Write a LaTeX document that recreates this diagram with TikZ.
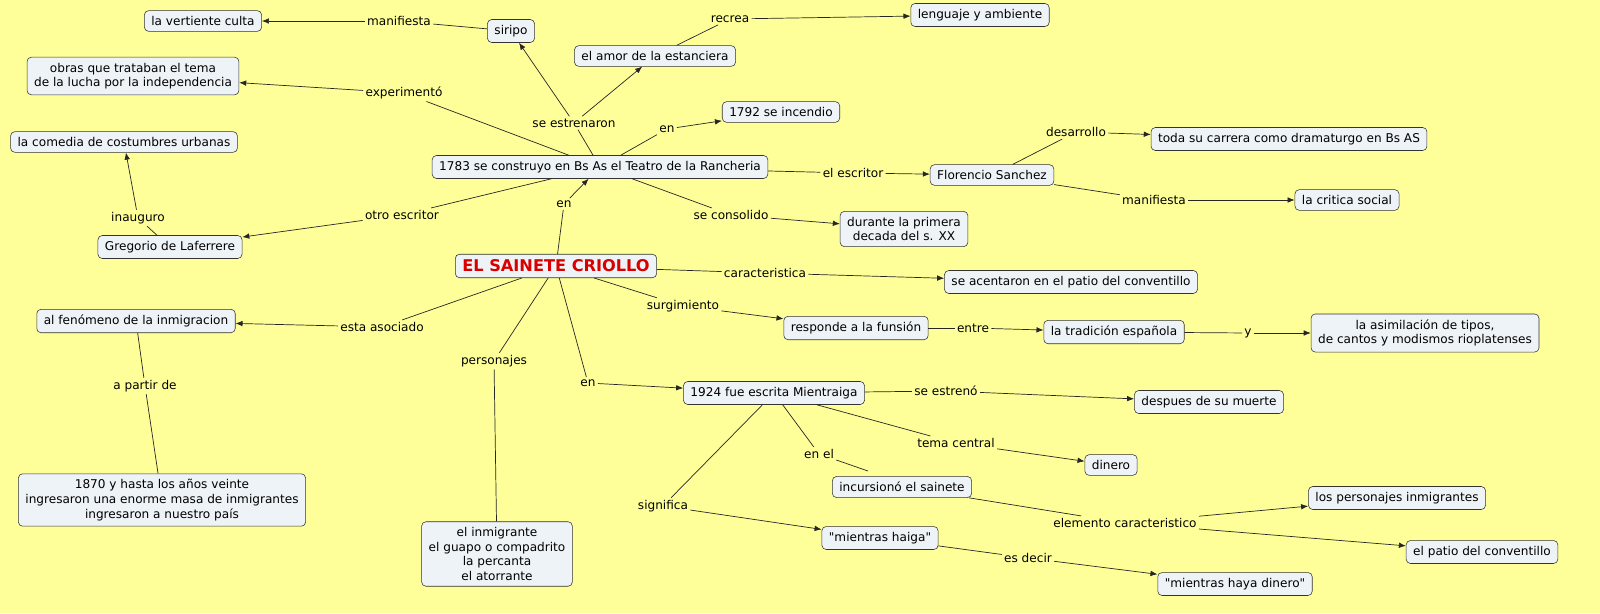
\documentclass[tikz,border=0pt]{standalone}
\usepackage{fontspec}
\setmainfont{DejaVu Sans}
\newfontfamily\plainq{DejaVu Sans}
\usetikzlibrary{arrows.meta}
\definecolor{bgy}{HTML}{FFFF99}
\definecolor{cbox}{HTML}{EEF3F7}
\newcommand{\dq}{{\plainq"}}
\begin{document}
\begin{tikzpicture}[x=0.025cm,y=-0.025cm,
  concept/.style={draw=black!80,fill=cbox,rounded corners=3pt,align=center,font=\fontsize{8.6}{10.4}\selectfont,inner xsep=5pt,inner ysep=4pt},
  lbl/.style={font=\fontsize{8.6}{10.4}\selectfont,inner sep=1.5pt,fill=bgy},
  ln/.style={draw=black!85,line width=0.5pt},
  ar/.style={ln,-{Latex[length=5pt,width=4pt]}}]
\fill[bgy] (0,0) rectangle (1600,613);
\useasboundingbox (0,0) rectangle (1600,613);
% concepts
\node[concept] (siripo) at (511,31) {siripo};
\node[concept] (culta) at (203,21) {la vertiente culta};
\node[concept] (leng) at (980,15) {lenguaje y ambiente};
\node[concept] (amor) at (655,56) {el amor de la estanciera};
\node[concept] (obras) at (133,76) {obras que trataban el tema\\de la lucha por la independencia};
\node[concept] (comedia) at (124,142) {la comedia de costumbres urbanas};
\node[concept] (incendio) at (781,112) {1792 se incendio};
\node[concept] (teatro) at (600,167) {1783 se construyo en Bs As el Teatro de la Rancheria};
\node[concept] (flor) at (992,175) {Florencio Sanchez};
\node[concept] (carrera) at (1289,139) {toda su carrera como dramaturgo en Bs AS};
\node[concept] (critica) at (1347,200) {la critica social};
\node[concept] (greg) at (170,247) {Gregorio de Laferrere};
\node[concept] (durante) at (904,229) {durante la primera\\decada del s. XX};
\node[concept,font=\fontsize{11.5}{13}\selectfont\bfseries,text=red!85!black] (sain) at (556,266) {EL SAINETE CRIOLLO};
\node[concept] (acent) at (1071,282) {se acentaron en el patio del conventillo};
\node[concept] (fenom) at (136,321) {al fenómeno de la inmigracion};
\node[concept] (resp) at (856,328) {responde a la funsión};
\node[concept] (trad) at (1114,332) {la tradición española};
\node[concept] (asim) at (1425,333) {la asimilación de tipos,\\de cantos y modismos rioplatenses};
\node[concept] (mien) at (774,393) {1924 fue escrita Mientraiga};
\node[concept] (muerte) at (1209,402) {despues de su muerte};
\node[concept] (dinero) at (1111,465) {dinero};
\node[concept] (incur) at (902,487) {incursionó el sainete};
\node[concept] (pers) at (1397,498) {los personajes inmigrantes};
\node[concept] (n1870) at (162,500) {1870 y hasta los años veinte\\ingresaron una enorme masa de inmigrantes\\ingresaron a nuestro país};
\node[concept] (inmig) at (497,554) {el inmigrante\\el guapo o compadrito\\la percanta\\el atorrante};
\node[concept] (haiga) at (880,538) {\dq mientras haiga\dq};
\node[concept] (patio) at (1482,552) {el patio del conventillo};
\node[concept] (haya) at (1235,584) {\dq mientras haya dinero\dq};
% labels
\node[lbl] (l1) at (399,21) {manifiesta};
\node[lbl] (l2) at (730,19) {recrea};
\node[lbl] (l3) at (574,123) {se estrenaron};
\node[lbl] (l4) at (404,93) {experimentó};
\node[lbl] (l5) at (667,129) {en};
\node[lbl] (l6) at (853,173) {el escritor};
\node[lbl] (l7) at (1076,132) {desarrollo};
\node[lbl] (l8) at (1154,200) {manifiesta};
\node[lbl] (l9) at (731,215) {se consolido};
\node[lbl] (l10) at (402,215) {otro escritor};
\node[lbl] (l11) at (138,218) {inauguro};
\node[lbl] (l12) at (564,204) {en};
\node[lbl] (l13) at (765,273) {caracteristica};
\node[lbl] (l14) at (683,306) {surgimiento};
\node[lbl] (l15) at (973,328) {entre};
\node[lbl] (l16) at (1248,333) {y};
\node[lbl] (l17) at (382,327) {esta asociado};
\node[lbl] (l18) at (145,386) {a partir de};
\node[lbl] (l19) at (494,361) {personajes};
\node[lbl] (l20) at (588,383) {en};
\node[lbl] (l21) at (946,391) {se estrenó};
\node[lbl] (l22) at (956,443) {tema central};
\node[lbl] (l23) at (819,454) {en el};
\node[lbl] (l24) at (663,506) {significa};
\node[lbl] (l25) at (1125,523) {elemento caracteristico};
\node[lbl] (l26) at (1028,558) {es decir};
\coordinate (c23) at (868,471);
% connectors
\draw[ln] (siripo) -- (l1); \draw[ar] (l1) -- (culta);
\draw[ln] (amor) -- (l2); \draw[ar] (l2) -- (leng);
\draw[ln] (teatro) -- (l3); \draw[ar] (l3) -- (siripo); \draw[ar] (l3) -- (amor);
\draw[ln] (teatro) -- (l4); \draw[ar] (l4) -- (obras);
\draw[ln] (teatro) -- (l5); \draw[ar] (l5) -- (incendio);
\draw[ln] (teatro) -- (l6); \draw[ar] (l6) -- (flor);
\draw[ln] (flor) -- (l7); \draw[ar] (l7) -- (carrera);
\draw[ln] (flor) -- (l8); \draw[ar] (l8) -- (critica);
\draw[ln] (teatro) -- (l9); \draw[ar] (l9) -- (durante);
\draw[ln] (teatro) -- (l10); \draw[ar] (l10) -- (greg);
\draw[ln] (greg) -- (l11); \draw[ar] (l11) -- (comedia);
\draw[ln] (sain) -- (l12); \draw[ar] (l12) -- (teatro);
\draw[ln] (sain) -- (l13); \draw[ar] (l13) -- (acent);
\draw[ln] (sain) -- (l14); \draw[ar] (l14) -- (resp);
\draw[ln] (resp) -- (l15); \draw[ar] (l15) -- (trad);
\draw[ln] (trad) -- (l16); \draw[ar] (l16) -- (asim);
\draw[ln] (sain) -- (l17); \draw[ar] (l17) -- (fenom);
\draw[ln] (fenom) -- (l18); \draw[ln] (l18) -- (n1870);
\draw[ln] (sain) -- (l19); \draw[ln] (l19) -- (inmig);
\draw[ln] (sain) -- (l20); \draw[ar] (l20) -- (mien);
\draw[ln] (mien) -- (l21); \draw[ar] (l21) -- (muerte);
\draw[ln] (mien) -- (l22); \draw[ar] (l22) -- (dinero);
\draw[ln] (mien) -- (l23); \draw[ln] (l23) -- (c23);
\draw[ln] (mien) -- (l24); \draw[ar] (l24) -- (haiga);
\draw[ln] (incur) -- (l25); \draw[ar] (l25) -- (pers); \draw[ar] (l25) -- (patio);
\draw[ln] (haiga) -- (l26); \draw[ar] (l26) -- (haya);
\end{tikzpicture}
\end{document}
